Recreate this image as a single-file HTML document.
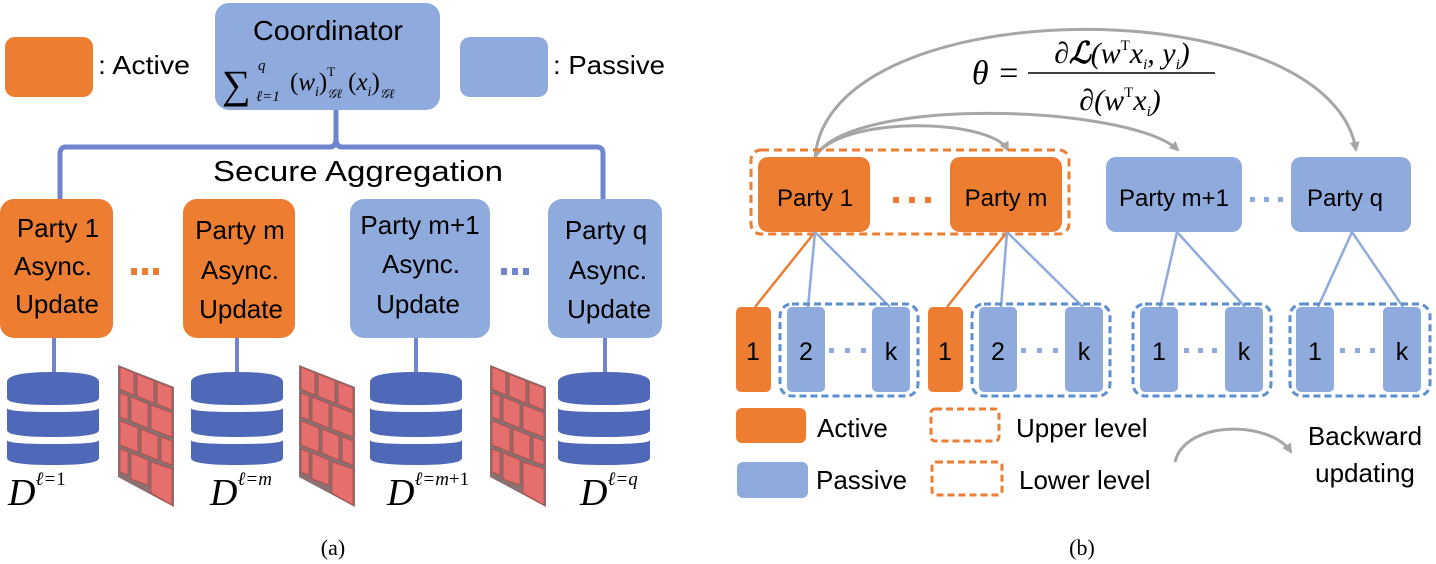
<!DOCTYPE html>
<html><head><meta charset="utf-8"><style>
html,body{margin:0;padding:0;background:#fff;}
svg{display:block;}
text{font-family:"Liberation Sans",sans-serif;fill:#000;}
.serif, .serif text{font-family:"Liberation Serif",serif;}
</style></head><body>
<svg width="1436" height="564" viewBox="0 0 1436 564" xmlns="http://www.w3.org/2000/svg">
<defs>
<marker id="ah" markerWidth="10" markerHeight="10" refX="8" refY="5" orient="auto" markerUnits="userSpaceOnUse">
<path d="M0,0 L10,5 L0,10 Z" fill="#a6a6a6"/></marker>
<g id="db">
<path d="M0,10 Q0,0 46,0 Q92,0 92,10 L92,26 Q92,33 46,33 Q0,33 0,26 Z" fill="#4f68b8"/>
<path d="M0,36 Q0,40 46,40 Q92,40 92,36 L92,58 Q92,65 46,65 Q0,65 0,58 Z" fill="#4f68b8"/>
<path d="M0,68 Q0,72 46,72 Q92,72 92,68 L92,86 Q92,93 46,93 Q0,93 0,86 Z" fill="#4f68b8"/>
</g>
<g id="wall">
<polygon points="0,0 56,22 56,142 0,112" fill="#8a7070"/>
<g fill="#e46f6c" stroke="#b24a48" stroke-width="0.8">
<polygon points="2,2 16,8 16,30 2,24"/><polygon points="19,9 36,16 36,38 19,31"/><polygon points="39,17 54,23 54,45 39,39"/>
<polygon points="2,28 10,31 10,55 2,52"/><polygon points="13,32 30,39 30,63 13,56"/><polygon points="33,40 54,48 54,72 33,64"/>
<polygon points="2,56 20,63 20,87 2,80"/><polygon points="23,64 40,71 40,95 23,88"/><polygon points="43,72 54,76 54,100 43,96"/>
<polygon points="2,84 10,87 10,110 2,107"/><polygon points="13,88 30,95 30,120 13,114"/><polygon points="33,97 54,104 54,140 33,128"/>
</g></g>
</defs>

<!-- Panel (a) -->
<rect x="5" y="37" width="88" height="60" rx="10" fill="#ed7d31"/>
<text x="98" y="74" font-size="26" textLength="92" lengthAdjust="spacingAndGlyphs">: Active</text>
<rect x="215" y="3" width="225" height="107" rx="14" fill="#8faadc"/>
<text x="328" y="40" font-size="28" text-anchor="middle" textLength="150" lengthAdjust="spacingAndGlyphs">Coordinator</text>
<text class="serif" x="222" y="98" font-size="40">∑</text>
<text class="serif" x="258" y="70" font-size="15" font-style="italic">q</text>
<text class="serif" x="256" y="101" font-size="15" font-style="italic">ℓ=1</text>
<text class="serif" x="290" y="90" font-size="25">(<tspan font-style="italic">w</tspan><tspan font-size="14" dy="6" font-style="italic">i</tspan><tspan dy="-6">)</tspan><tspan font-size="13" dy="-14">T</tspan><tspan font-size="13" dx="-8" dy="22" font-style="italic">𝒢ℓ</tspan><tspan dy="-8"> (</tspan><tspan font-style="italic">x</tspan><tspan font-size="14" dy="6" font-style="italic">i</tspan><tspan dy="-6">)</tspan><tspan font-size="13" dy="8" font-style="italic">𝒢ℓ</tspan></text>
<rect x="460" y="37" width="88" height="60" rx="10" fill="#8faadc"/>
<text x="553" y="74" font-size="26" textLength="112" lengthAdjust="spacingAndGlyphs">: Passive</text>

<path d="M336,110 L336,138 Q336,147 330,147 L66,147 Q60,147 60,154 L60,199" fill="none" stroke="#6f86cf" stroke-width="5"/>
<path d="M336,138 Q336,147 342,147 L597,147 Q603,147 603,154 L603,199" fill="none" stroke="#6f86cf" stroke-width="5"/>
<text x="358" y="181" font-size="29" text-anchor="middle" textLength="290" lengthAdjust="spacingAndGlyphs">Secure Aggregation</text>

<rect x="0" y="199" width="113" height="139" rx="14" fill="#ed7d31"/>
<rect x="183" y="199" width="112" height="139" rx="14" fill="#ed7d31"/>
<rect x="350" y="199" width="140" height="139" rx="14" fill="#8faadc"/>
<rect x="548" y="199" width="114" height="139" rx="14" fill="#8faadc"/>
<g font-size="26" text-anchor="middle">
<text x="58" y="237">Party 1</text><text x="53" y="275">Async.</text><text x="57" y="313">Update</text>
<text x="240" y="239">Party m</text><text x="240" y="279">Async.</text><text x="241" y="318">Update</text>
<text x="420" y="234">Party m+1</text><text x="421" y="273">Async.</text><text x="418" y="313">Update</text>
<text x="606" y="239">Party q</text><text x="608" y="279">Async.</text><text x="609" y="318">Update</text>
</g>
<g fill="#ed7d31"><rect x="131" y="268" width="6" height="7"/><rect x="142" y="268" width="6" height="7"/><rect x="153" y="268" width="6" height="7"/></g>
<g fill="#6f86cf"><rect x="501" y="268" width="6" height="7"/><rect x="512" y="268" width="6" height="7"/><rect x="523" y="268" width="6" height="7"/></g>

<g stroke="#6f86cf" stroke-width="4"><line x1="54" y1="338" x2="54" y2="373"/><line x1="237" y1="338" x2="237" y2="373"/><line x1="416" y1="338" x2="416" y2="373"/><line x1="605" y1="338" x2="605" y2="373"/></g>
<use href="#db" x="7" y="372"/><use href="#db" x="191" y="372"/><use href="#db" x="370" y="372"/><use href="#db" x="558" y="372"/>
<use href="#wall" x="118" y="365"/><use href="#wall" x="299" y="365"/><use href="#wall" x="490" y="365"/>
<g class="serif" font-size="38" font-style="italic">
<text x="8" y="505">D<tspan font-size="19" dy="-20">ℓ=<tspan font-style="normal">1</tspan></tspan></text>
<text x="210" y="505">D<tspan font-size="19" dy="-20">ℓ=m</tspan></text>
<text x="387" y="505">D<tspan font-size="19" dy="-20">ℓ=m<tspan font-style="normal">+1</tspan></tspan></text>
<text x="580" y="505">D<tspan font-size="19" dy="-20">ℓ=q</tspan></text>
</g>
<text class="serif" x="333" y="555" font-size="22" text-anchor="middle">(a)</text>

<!-- Panel (b) -->
<g fill="none" stroke="#a6a6a6" stroke-width="3">
<path d="M815,157 C830,-12 1330,-12 1356,150" marker-end="url(#ah)"/>
<path d="M815,157 C850,95 1130,105 1178,150" marker-end="url(#ah)"/>
<path d="M815,157 C840,115 990,118 1008,150" marker-end="url(#ah)"/>
</g>
<g class="serif" font-style="italic">
<text x="1020" y="84" font-size="34" text-anchor="end">θ =</text>
<text x="1122" y="63" font-size="30" text-anchor="middle">∂<tspan font-weight="bold">ℒ</tspan>(w<tspan font-size="15" dy="-13" font-style="normal">T</tspan><tspan dy="13">x</tspan><tspan font-size="15" dy="6">i</tspan><tspan dy="-6">, y</tspan><tspan font-size="15" dy="6">i</tspan><tspan dy="-6">)</tspan></text>
<text x="1120" y="110" font-size="30" text-anchor="middle">∂(w<tspan font-size="15" dy="-13" font-style="normal">T</tspan><tspan dy="13">x</tspan><tspan font-size="15" dy="6">i</tspan><tspan dy="-6">)</tspan></text>
</g>
<line x1="1028" y1="73" x2="1215" y2="73" stroke="#000" stroke-width="1.5"/>

<rect x="751" y="150" width="318" height="84" rx="10" fill="none" stroke="#ed7d31" stroke-width="3" stroke-dasharray="8,5"/>
<rect x="758" y="157" width="112" height="75" rx="10" fill="#ed7d31"/>
<rect x="950" y="157" width="112" height="75" rx="10" fill="#ed7d31"/>
<rect x="1106" y="157" width="136" height="75" rx="10" fill="#8faadc"/>
<rect x="1291" y="157" width="120" height="75" rx="10" fill="#8faadc"/>
<g font-size="24" text-anchor="middle">
<text x="815" y="206">Party 1</text><text x="1006" y="206">Party m</text><text x="1174" y="206">Party m+1</text><text x="1345" y="206">Party q</text>
</g>
<g fill="#ed7d31"><rect x="893" y="197" width="6" height="6"/><rect x="909" y="197" width="6" height="6"/><rect x="925" y="197" width="6" height="6"/></g>
<g fill="#8faadc"><rect x="1250" y="197" width="5" height="5"/><rect x="1264" y="197" width="5" height="5"/><rect x="1278" y="197" width="5" height="5"/></g>

<g stroke-width="2.5">
<line x1="815" y1="232" x2="755" y2="307" stroke="#ed7d31"/>
<line x1="815" y1="232" x2="808" y2="307" stroke="#8faadc"/>
<line x1="815" y1="232" x2="890" y2="307" stroke="#8faadc"/>
<line x1="1007" y1="232" x2="947" y2="307" stroke="#ed7d31"/>
<line x1="1007" y1="232" x2="1001" y2="307" stroke="#8faadc"/>
<line x1="1007" y1="232" x2="1083" y2="307" stroke="#8faadc"/>
<line x1="1177" y1="232" x2="1160" y2="307" stroke="#8faadc"/>
<line x1="1177" y1="232" x2="1245" y2="307" stroke="#8faadc"/>
<line x1="1352" y1="232" x2="1318" y2="307" stroke="#8faadc"/>
<line x1="1352" y1="232" x2="1403" y2="307" stroke="#8faadc"/>
</g>
<g fill="#ed7d31"><rect x="736" y="307" width="35" height="85" rx="5"/><rect x="928" y="307" width="35" height="85" rx="5"/></g>
<g fill="#8faadc">
<rect x="787" y="307" width="38" height="85" rx="5"/><rect x="872" y="307" width="38" height="85" rx="5"/>
<rect x="979" y="307" width="38" height="85" rx="5"/><rect x="1065" y="307" width="38" height="85" rx="5"/>
<rect x="1140" y="307" width="38" height="85" rx="5"/><rect x="1225" y="307" width="38" height="85" rx="5"/>
<rect x="1296" y="307" width="38" height="85" rx="5"/><rect x="1383" y="307" width="38" height="85" rx="5"/>
</g>
<g fill="none" stroke="#5b8fd0" stroke-width="3" stroke-dasharray="7,4">
<rect x="780" y="304" width="138" height="92" rx="12"/>
<rect x="972" y="304" width="138" height="92" rx="12"/>
<rect x="1133" y="304" width="138" height="92" rx="12"/>
<rect x="1290" y="304" width="140" height="92" rx="12"/>
</g>
<g fill="#8faadc">
<rect x="829" y="348" width="5" height="5"/><rect x="845" y="348" width="5" height="5"/><rect x="861" y="348" width="5" height="5"/>
<rect x="1021" y="348" width="5" height="5"/><rect x="1037" y="348" width="5" height="5"/><rect x="1053" y="348" width="5" height="5"/>
<rect x="1184" y="348" width="5" height="5"/><rect x="1198" y="348" width="5" height="5"/><rect x="1212" y="348" width="5" height="5"/>
<rect x="1340" y="348" width="5" height="5"/><rect x="1355" y="348" width="5" height="5"/><rect x="1370" y="348" width="5" height="5"/>
</g>
<g font-size="25" text-anchor="middle">
<text x="753" y="360">1</text><text x="806" y="360">2</text><text x="891" y="360">k</text>
<text x="945" y="360">1</text><text x="998" y="360">2</text><text x="1084" y="360">k</text>
<text x="1159" y="360">1</text><text x="1244" y="360">k</text>
<text x="1315" y="360">1</text><text x="1402" y="360">k</text>
</g>

<rect x="736" y="408" width="70" height="35" rx="6" fill="#ed7d31"/>
<rect x="737" y="462" width="71" height="36" rx="6" fill="#8faadc"/>
<rect x="931" y="409" width="68" height="32" rx="4" fill="none" stroke="#ed7d31" stroke-width="3" stroke-dasharray="7,4"/>
<rect x="932" y="462" width="70" height="33" rx="4" fill="none" stroke="#ed7d31" stroke-width="3" stroke-dasharray="7,4"/>
<g font-size="26">
<text x="817" y="437">Active</text><text x="816" y="489">Passive</text>
<text x="1016" y="437">Upper level</text><text x="1019" y="489">Lower level</text>
<text x="1365" y="445" text-anchor="middle">Backward</text><text x="1365" y="482" text-anchor="middle">updating</text>
</g>
<path d="M1175,462 C1185,420 1270,420 1291,452" fill="none" stroke="#a6a6a6" stroke-width="3" marker-end="url(#ah)"/>
<text class="serif" x="1082" y="555" font-size="22" text-anchor="middle">(b)</text>
</svg>
</body></html>
